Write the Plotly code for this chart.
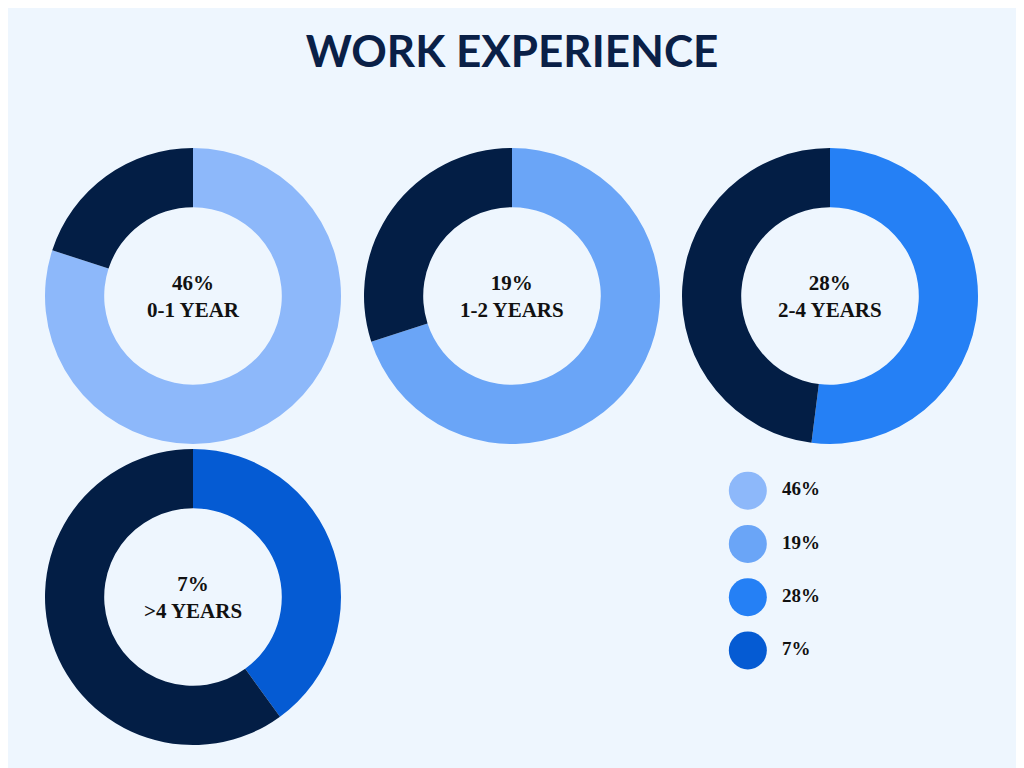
import plotly.graph_objects as go

labels = ["0-1 YEAR", "1-2 YEARS", "2-4 YEARS", ">4 YEARS"]
percents = ["46%", "19%", "28%", "7%"]
# arc fraction as drawn in the picture (the graphic does not scale arcs to the percentages)
arc_fill = [0.80, 0.70, 0.52, 0.40]
colors = ["#8DB8FA", "#6AA5F7", "#2580F5", "#055BD3"]
dark = "#031E45"
bg = "#EEF6FE"

OFF = 8  # page body margin
centers = [(193 - OFF, 296 - OFF), (512 - OFF, 296 - OFF), (830 - OFF, 296 - OFF), (193 - OFF, 597 - OFF)]
R = 148
W, H = 1024, 768

fig = go.Figure()
for i in range(4):
    cx, cy = centers[i]
    fig.add_trace(go.Pie(
        values=[arc_fill[i], 1 - arc_fill[i]],
        marker=dict(colors=[colors[i], dark], line=dict(width=0)),
        hole=0.6, sort=False, direction="clockwise", rotation=0,
        textinfo="none", hoverinfo="skip", showlegend=False,
        domain=dict(x=[(cx - R) / W, (cx + R) / W], y=[(H - cy - R) / H, (H - cy + R) / H]),
    ))
    fig.add_annotation(x=cx / W, y=1 - cy / H, xref="paper", yref="paper",
                       xanchor="center", yanchor="middle",
                       text=f"<b>{percents[i]}</b><br><b>{labels[i]}</b>", showarrow=False,
                       font=dict(family="Liberation Serif", size=21, color="#111"))

fig.add_trace(go.Scatter(
    x=[0] * 4, y=[0, 1, 2, 3], mode="markers+text",
    marker=dict(size=38, color=colors), text=["  <b>" + p + "</b>" for p in percents],
    textposition="middle right", textfont=dict(family="Liberation Serif", size=19, color="#111"),
    showlegend=False, hoverinfo="skip", xaxis="x", yaxis="y"))

fig.update_layout(
    width=W, height=H, margin=dict(l=0, r=0, t=0, b=0),
    paper_bgcolor=bg, plot_bgcolor=bg,
    xaxis=dict(domain=[(725 - OFF) / W, (900 - OFF) / W], range=[-0.3, 2], visible=False),
    yaxis=dict(domain=[1 - (677 - OFF) / H, 1 - (464 - OFF) / H], range=[3.5, -0.5], visible=False),
    title=dict(text="<b>WORK EXPERIENCE</b>", x=(512 - OFF) / W, y=1 - (52 - OFF) / H,
               xanchor="center", yanchor="middle",
               font=dict(family="Lato", size=44, color="#0A2047")),
)
fig.write_html("out.html")
